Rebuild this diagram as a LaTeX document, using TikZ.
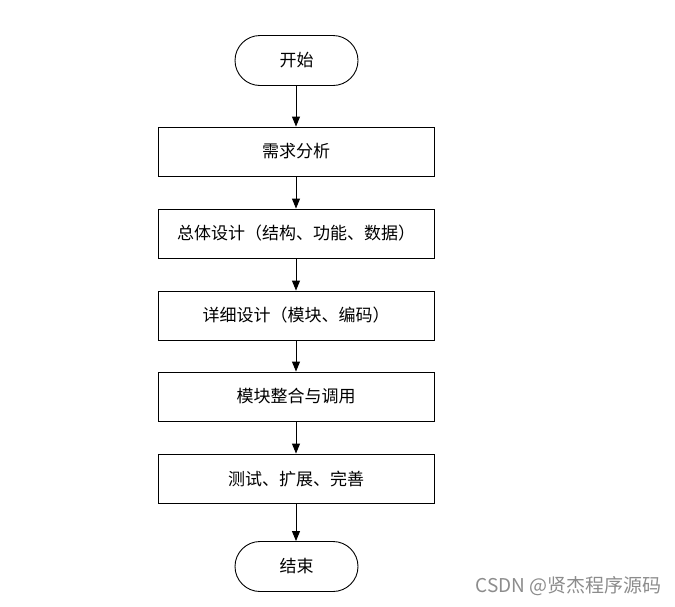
\documentclass[tikz,border=0pt]{standalone}
\usepackage{fontspec}
\setmainfont{Noto Sans CJK SC}
\usetikzlibrary{arrows.meta}
\begin{document}
\begin{tikzpicture}[x=1pt,y=-1pt,
  stepbox/.style={draw=black,line width=0.9pt,minimum width=276pt,minimum height=49pt,inner sep=0pt,font=\fontsize{17}{20}\selectfont},
  term/.style={draw=black,line width=0.9pt,rounded corners=25pt,minimum width=123pt,minimum height=50pt,inner sep=0pt,font=\fontsize{17}{20}\selectfont},
  flow/.style={draw=black,line width=0.9pt,-{Triangle[length=10pt,width=8pt]}}]
\useasboundingbox (0,0) rectangle (675,606);
\node[term] (start) at (296.5,60.5) {开始};
\node[stepbox] (s1) at (296,151.5) {需求分析};
\node[stepbox] (s2) at (296,233.5) {总体设计（结构、功能、数据）};
\node[stepbox] (s3) at (296,315.5) {详细设计（模块、编码）};
\node[stepbox] (s4) at (296,396.5) {模块整合与调用};
\node[stepbox] (s5) at (296,478.5) {测试、扩展、完善};
\node[term] (end) at (296.5,566.5) {结束};
\draw[flow] (start.south -| s1.north) -- (s1.north);
\draw[flow] (s1) -- (s2);
\draw[flow] (s2) -- (s3);
\draw[flow] (s3) -- (s4);
\draw[flow] (s4) -- (s5);
\draw[flow] (s5.south) -- (s5.south |- end.north);
\node[text=black!45,font=\fontsize{19}{22}\selectfont,anchor=east,inner sep=0pt] (wm) at (662,586) {CSDN @贤杰程序源码};
\end{tikzpicture}
\end{document}
